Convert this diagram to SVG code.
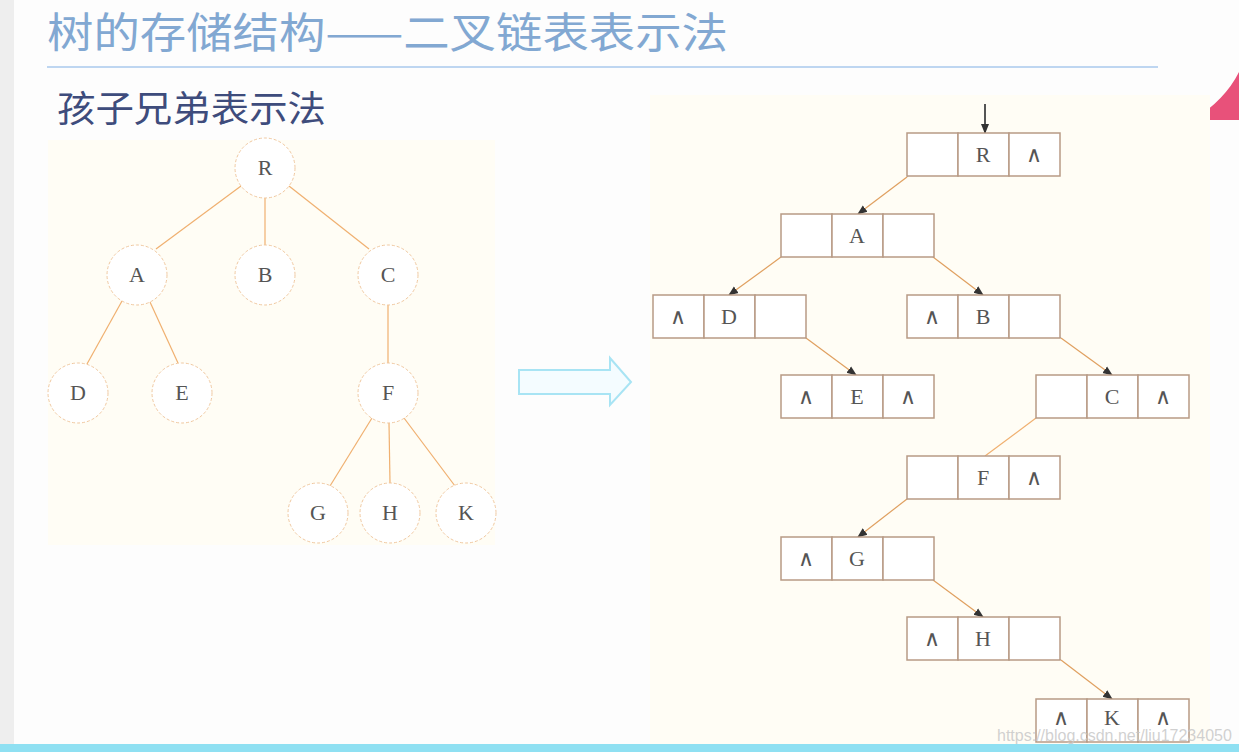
<svg xmlns="http://www.w3.org/2000/svg" width="1239" height="752" viewBox="0 0 1239 752">
<defs>
<style>
.cell{fill:#fff;stroke:#b89a85;stroke-width:1.5}
.lbl{font-family:"Liberation Serif",serif;font-size:22px;fill:#555;text-anchor:middle}
.circ{fill:#fff;stroke:#f0c8a0;stroke-width:1;stroke-dasharray:3 2}
.edge{stroke:#f0b070;stroke-width:1.2;fill:none}
.ptr{stroke:#e0a060;stroke-width:1.2;fill:none;marker-end:url(#ah)}
.in{stroke:#999;stroke-width:0.8}
</style>
<marker id="ah" markerWidth="10" markerHeight="10" refX="9" refY="5" orient="auto" markerUnits="userSpaceOnUse"><path d="M0,1 L10,5 L0,9 Z" fill="#333"/></marker>
<g id="cellbox"><rect class="cell" x="0" y="0" width="51" height="43"/><rect class="cell" x="51" y="0" width="51" height="43"/><rect class="cell" x="102" y="0" width="51" height="43"/></g>
</defs>
<rect width="1239" height="752" fill="#fdfdfd"/>
<rect x="0" y="0" width="14" height="752" fill="#eeeeee"/>
<text x="47" y="48" font-family="'Noto Sans CJK SC',sans-serif" font-size="42" fill="#82a8d2" textLength="681" lengthAdjust="spacingAndGlyphs">树的存储结构——二叉链表表示法</text>
<line x1="47" y1="67" x2="1158" y2="67" stroke="#a8c8ec" stroke-width="1.5"/>
<text x="57" y="122" font-family="'Noto Sans CJK SC',sans-serif" font-size="36" fill="#3e4c7c" textLength="269" lengthAdjust="spacingAndGlyphs">孩子兄弟表示法</text>
<path d="M1193,120 L1239,120 L1239,72 Q1225,100 1193,120 Z" fill="#e8517a"/>
<rect x="48" y="140" width="447" height="405" fill="#fffdf5"/>
<rect x="650" y="95" width="560" height="650" fill="#fffdf5"/>
<rect x="0" y="744" width="1239" height="8" fill="#8fe0f2"/>

<g id="tree-edges">
<line class="edge" x1="265" y1="198" x2="265" y2="245"/>
<line class="edge" x1="241" y1="186" x2="156" y2="249"/>
<line class="edge" x1="289" y1="186" x2="369" y2="249"/>
<line class="edge" x1="122" y1="301" x2="87" y2="364"/>
<line class="edge" x1="150" y1="302" x2="178" y2="363"/>
<line class="edge" x1="388" y1="305" x2="388" y2="363"/>
<line class="edge" x1="372" y1="418" x2="330" y2="486"/>
<line class="edge" x1="389" y1="423" x2="390" y2="483"/>
<line class="edge" x1="404" y1="418" x2="455" y2="486"/>
</g>
<g id="tR"><circle class="circ" cx="265" cy="168" r="30"/><text class="lbl" x="265" y="175">R</text></g>
<g id="tA"><circle class="circ" cx="137" cy="275" r="30"/><text class="lbl" x="137" y="282">A</text></g>
<g id="tB"><circle class="circ" cx="265" cy="275" r="30"/><text class="lbl" x="265" y="282">B</text></g>
<g id="tC"><circle class="circ" cx="388" cy="275" r="30"/><text class="lbl" x="388" y="282">C</text></g>
<g id="tD"><circle class="circ" cx="78" cy="393" r="30"/><text class="lbl" x="78" y="400">D</text></g>
<g id="tE"><circle class="circ" cx="182" cy="393" r="30"/><text class="lbl" x="182" y="400">E</text></g>
<g id="tF"><circle class="circ" cx="388" cy="393" r="30"/><text class="lbl" x="388" y="400">F</text></g>
<g id="tG"><circle class="circ" cx="318" cy="513" r="30"/><text class="lbl" x="318" y="520">G</text></g>
<g id="tH"><circle class="circ" cx="390" cy="513" r="30"/><text class="lbl" x="390" y="520">H</text></g>
<g id="tK"><circle class="circ" cx="466" cy="513" r="30"/><text class="lbl" x="466" y="520">K</text></g>

<g id="bigarrow"><path d="M519,370 L610,370 L610,358 L631,382 L610,405 L610,394 L519,394 Z" fill="#f4fcff" stroke="#a8e4f4" stroke-width="2"/></g>

<g id="connectors">
<line x1="985" y1="104" x2="985" y2="133" stroke="#555" stroke-width="2" marker-end="url(#ah)"/>
<line class="in" x1="932" y1="155" x2="907" y2="177"/><line class="ptr" x1="907" y1="177" x2="858" y2="214"/>
<line class="in" x1="806" y1="240" x2="781" y2="257"/><line class="ptr" x1="781" y1="257" x2="729" y2="295"/>
<line class="in" x1="909" y1="240" x2="933" y2="257"/><line class="ptr" x1="933" y1="257" x2="983" y2="295"/>
<line class="in" x1="782" y1="322" x2="806" y2="338"/><line class="ptr" x1="806" y1="338" x2="856" y2="375"/>
<line class="in" x1="1037" y1="315" x2="1061" y2="338"/><line class="ptr" x1="1061" y1="338" x2="1112" y2="375"/>
<line class="in" x1="1060" y1="398" x2="1036" y2="418"/><line class="edge" x1="1036" y1="418" x2="985" y2="456"/>
<line class="in" x1="932" y1="480" x2="907" y2="499"/><line class="ptr" x1="907" y1="499" x2="858" y2="537"/>
<line class="in" x1="909" y1="557" x2="933" y2="580"/><line class="ptr" x1="933" y1="580" x2="983" y2="617"/>
<line class="in" x1="1037" y1="640" x2="1061" y2="660"/><line class="ptr" x1="1061" y1="660" x2="1112" y2="699"/>
</g>

<g id="nR" transform="translate(907,133)"><use href="#cellbox"/><text class="lbl" x="76" y="29">R</text><text class="lbl" x="127" y="29">∧</text></g>
<g id="nA" transform="translate(781,214)"><use href="#cellbox"/><text class="lbl" x="76" y="29">A</text></g>
<g id="nD" transform="translate(653,295)"><use href="#cellbox"/><text class="lbl" x="25" y="29">∧</text><text class="lbl" x="76" y="29">D</text></g>
<g id="nB" transform="translate(907,295)"><use href="#cellbox"/><text class="lbl" x="25" y="29">∧</text><text class="lbl" x="76" y="29">B</text></g>
<g id="nE" transform="translate(781,375)"><use href="#cellbox"/><text class="lbl" x="25" y="29">∧</text><text class="lbl" x="76" y="29">E</text><text class="lbl" x="127" y="29">∧</text></g>
<g id="nC" transform="translate(1036,375)"><use href="#cellbox"/><text class="lbl" x="76" y="29">C</text><text class="lbl" x="127" y="29">∧</text></g>
<g id="nF" transform="translate(907,456)"><use href="#cellbox"/><text class="lbl" x="76" y="29">F</text><text class="lbl" x="127" y="29">∧</text></g>
<g id="nG" transform="translate(781,537)"><use href="#cellbox"/><text class="lbl" x="25" y="29">∧</text><text class="lbl" x="76" y="29">G</text></g>
<g id="nH" transform="translate(907,617)"><use href="#cellbox"/><text class="lbl" x="25" y="29">∧</text><text class="lbl" x="76" y="29">H</text></g>
<g id="nK" transform="translate(1036,699)"><use href="#cellbox"/><text class="lbl" x="25" y="26">∧</text><text class="lbl" x="76" y="26">K</text><text class="lbl" x="127" y="26">∧</text></g>

<text x="997" y="741" font-family="'Liberation Sans',sans-serif" font-size="16" fill="#c8c8c8" fill-opacity="0.85">https://blog.csdn.net/liu17234050</text>
</svg>
